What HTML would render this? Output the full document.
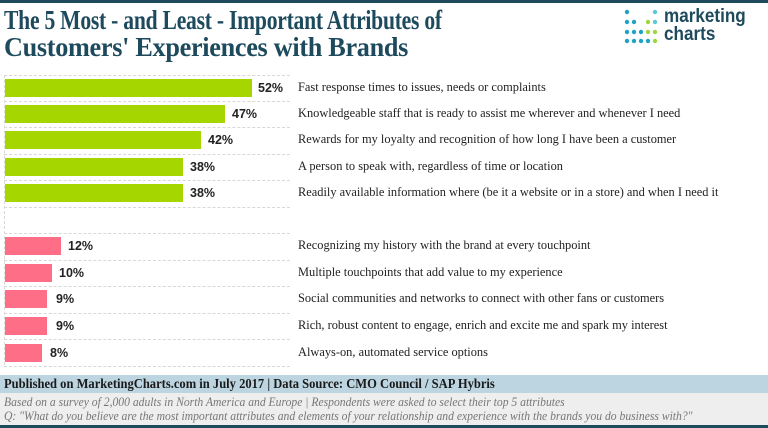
<!DOCTYPE html><html><head><style>
body{margin:0;width:768px;height:428px;overflow:hidden;background:#fff;position:relative;font-family:"Liberation Serif",serif}
.a{position:absolute}
.t{left:4px;font:bold 27px "Liberation Serif",serif;color:#1d4a5c;transform-origin:left;white-space:nowrap;letter-spacing:-0.3px}
.bar{position:absolute;left:5px;height:18px}
.g{background:#a6d600}.p{background:#ff6e87}
.pc{position:absolute;font:bold 12.5px "Liberation Sans",sans-serif;color:#222}
.lb{position:absolute;left:298px;font-size:12.4px;color:#222;white-space:nowrap}
.ln{position:absolute;left:4px;width:286px;border-top:1px dashed #d8d8d8}
</style></head><body>
<div class="a" style="left:0;top:0;width:768px;height:3px;background:#1d4a5c"></div>
<div class="a t" style="top:5px;transform:scaleX(0.8)">The 5 Most - and Least - Important Attributes of</div>
<div class="a t" style="top:32px;transform:scaleX(0.97)">Customers' Experiences with Brands</div>
<svg class="a" style="left:624px;top:8px" width="36" height="36">
<g fill="#1fa3c4"><circle cx="3" cy="4" r="2.2"/><circle cx="3" cy="14" r="2.2"/><circle cx="3" cy="24" r="2.2"/><circle cx="3" cy="33" r="2.2"/><circle cx="10" cy="14" r="2.2"/><circle cx="10" cy="24" r="2.2"/><circle cx="10" cy="33" r="2.2"/><circle cx="17" cy="24" r="2.2"/><circle cx="17" cy="33" r="2.2"/><circle cx="24" cy="33" r="2.2"/></g>
<g fill="#9fd53f"><circle cx="24" cy="14" r="2.2"/><circle cx="24" cy="24" r="2.2"/><circle cx="31" cy="24" r="2.2"/><circle cx="31" cy="33" r="2.2"/></g>
<g fill="#5bcad6"><circle cx="31" cy="4" r="2.2"/><circle cx="31" cy="14" r="2.2"/></g>
</svg>
<div class="a" style="left:664px;top:8px;font:bold 19px 'Liberation Sans',sans-serif;color:#1d4a5c;line-height:18px;transform:scaleX(0.9);transform-origin:left">marketing<br>charts</div>
<div class="a" style="left:4px;top:75px;height:290px;border-left:1px dashed #d8d8d8"></div>
<div class="ln" style="top:75px"></div><div class="ln" style="top:101px"></div><div class="ln" style="top:127px"></div><div class="ln" style="top:154px"></div><div class="ln" style="top:180px"></div><div class="ln" style="top:207px"></div><div class="ln" style="top:233px"></div><div class="ln" style="top:260px"></div><div class="ln" style="top:286px"></div><div class="ln" style="top:313px"></div><div class="ln" style="top:339px"></div><div class="ln" style="top:366px"></div>
<div class="bar g" style="top:79px;width:247px"></div><div class="pc" style="left:258px;top:81px">52%</div><div class="lb" style="top:80px">Fast response times to issues, needs or complaints</div>
<div class="bar g" style="top:105px;width:220px"></div><div class="pc" style="left:232px;top:107px">47%</div><div class="lb" style="top:106px">Knowledgeable staff that is ready to assist me wherever and whenever I need</div>
<div class="bar g" style="top:131px;width:196px"></div><div class="pc" style="left:208px;top:133px">42%</div><div class="lb" style="top:132px">Rewards for my loyalty and recognition of how long I have been a customer</div>
<div class="bar g" style="top:158px;width:178px"></div><div class="pc" style="left:190px;top:160px">38%</div><div class="lb" style="top:159px">A person to speak with, regardless of time or location</div>
<div class="bar g" style="top:184px;width:178px"></div><div class="pc" style="left:190px;top:186px">38%</div><div class="lb" style="top:185px">Readily available information where (be it a website or in a store) and when I need it</div>
<div class="bar p" style="top:237px;width:56px"></div><div class="pc" style="left:68px;top:239px">12%</div><div class="lb" style="top:238px">Recognizing my history with the brand at every touchpoint</div>
<div class="bar p" style="top:264px;width:47px"></div><div class="pc" style="left:59px;top:266px">10%</div><div class="lb" style="top:265px">Multiple touchpoints that add value to my experience</div>
<div class="bar p" style="top:290px;width:42px"></div><div class="pc" style="left:56px;top:292px">9%</div><div class="lb" style="top:291px">Social communities and networks to connect with other fans or customers</div>
<div class="bar p" style="top:317px;width:42px"></div><div class="pc" style="left:56px;top:319px">9%</div><div class="lb" style="top:318px">Rich, robust content to engage, enrich and excite me and spark my interest</div>
<div class="bar p" style="top:344px;width:37px"></div><div class="pc" style="left:50px;top:346px">8%</div><div class="lb" style="top:345px">Always-on, automated service options</div>
<div class="a" style="left:0;top:375px;width:768px;height:18px;background:#bcd5e1"></div>
<div class="a" style="left:4px;top:376px;font:bold 13.5px 'Liberation Serif',serif;color:#1a1a1a;white-space:nowrap;transform:scaleX(0.93);transform-origin:left">Published on MarketingCharts.com in July 2017 | Data Source: CMO Council / SAP Hybris</div>
<div class="a" style="left:0;top:393px;width:768px;height:32px;background:#eeeeee"></div>
<div class="a" style="left:4px;top:395px;font:italic 12.5px 'Liberation Serif',serif;color:#777;line-height:14px;white-space:nowrap;transform:scaleX(0.93);transform-origin:left">Based on a survey of 2,000 adults in North America and Europe | Respondents were asked to select their top 5 attributes<br>Q: "What do you believe are the most important attributes and elements of your relationship and experience with the brands you do business with?"</div>
<div class="a" style="left:0;top:425px;width:768px;height:3px;background:#1d4a5c"></div>
</body></html>
